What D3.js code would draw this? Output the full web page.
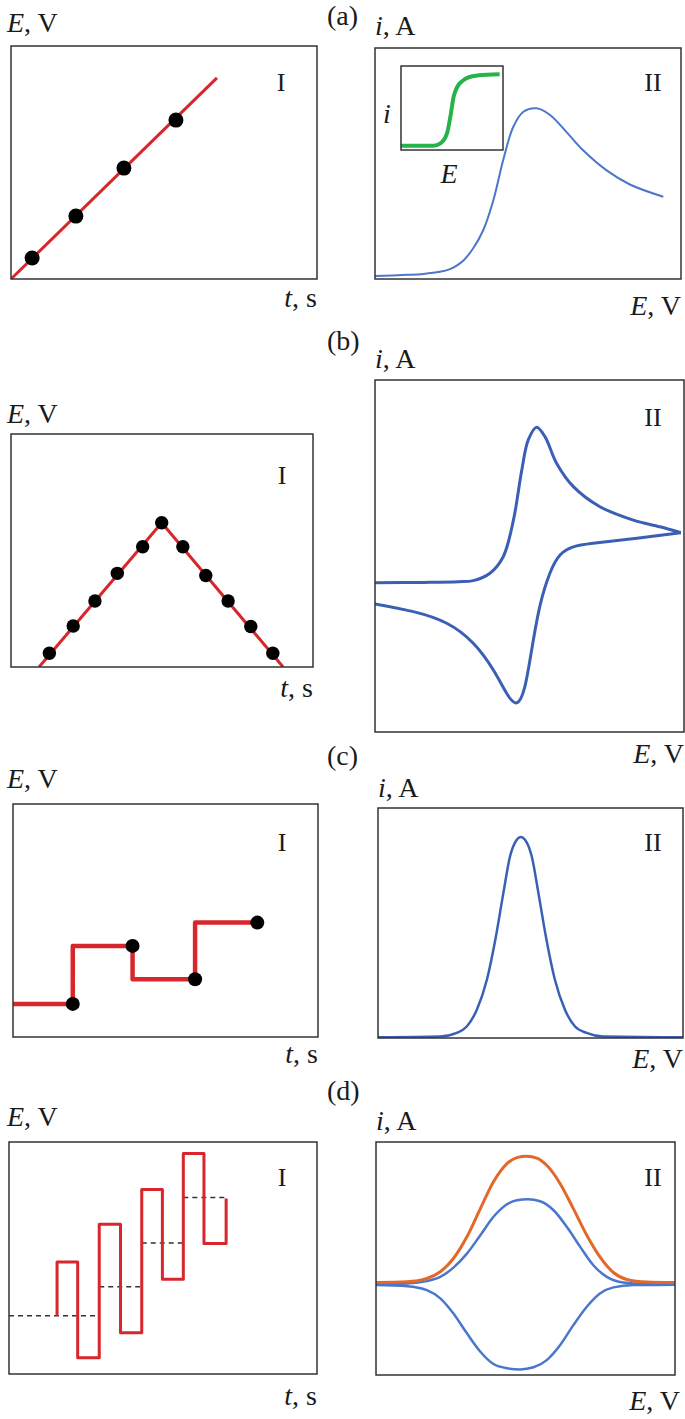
<!DOCTYPE html>
<html>
<head>
<meta charset="utf-8">
<script src="https://cdn.jsdelivr.net/npm/d3@7"></script>
<style>
  html, body { margin: 0; padding: 0; background: #fff; }
  svg { display: block; }
  text { font-family: "Liberation Serif", "Times New Roman", serif; fill: #1a1a1a; }
</style>
</head>
<body>
<svg id="chart" width="685" height="1419"></svg>
<script>
// ---------------- DATA (abstract units, 0–100 on both axes of each panel) ----------------
const panelLetters = ["(a)", "(b)", "(c)", "(d)"];

// (a) I: linear sweep
const sweepLineA = [[0, 0], [67.3, 86.3]];
const sweepDotsA = [[6.9, 9.0], [21.2, 27.0], [36.9, 47.6], [53.9, 68.2]];
// (a) II: linear sweep voltammogram
const lsvCurve = [[0, 1.3], [10.4, 1.8], [15.8, 2.2], [21.2, 3.1], [24.5, 4.3], [26.7, 5.8], [28.9, 8.0],
  [32.1, 13.3], [35.4, 21.2], [38.7, 34.2], [41.9, 51.5], [45.2, 65.9], [48.5, 72.4], [52.8, 73.9],
  [57.2, 71.0], [62.6, 63.6], [68.1, 55.6], [75.7, 47.0], [83.3, 40.9], [94.2, 35.6]];
// (a) inset: sigmoid
const insetSigmoid = [[0, 5.2], [32.0, 5.2], [38.6, 7.9], [45.1, 19.8], [48.4, 39.7], [51.6, 63.5],
  [54.9, 74.6], [61.4, 83.3], [71.2, 88.1], [84.3, 89.7], [96.7, 90.1]];

// (b) I: triangular sweep
const triLine = [[9.3, 0], [49.9, 61.9], [90.1, 0]];
const triDots = [[12.7, 5.9], [20.6, 17.6], [27.8, 28.3], [35.2, 40.2], [43.6, 51.6], [49.9, 61.9],
  [56.9, 51.6], [64.5, 39.3], [71.9, 28.3], [79.4, 17.4], [86.7, 5.9]];
// (b) II: cyclic voltammogram
const cvForward = [[0, 42.4], [16, 42.5], [27, 42.7], [31.8, 43.0], [37.2, 45.1], [41.5, 49.8], [44.8, 60.2], [47.5, 74.4],
  [49.6, 83.0], [52.3, 86.6], [55.0, 83.9], [58.8, 76.3], [64.2, 69.7], [72.8, 64.0],
  [83.6, 60.2], [92.2, 58.3], [99.0, 56.6]];
const cvReverse = [[99.0, 56.6], [84.1, 55.0], [70.6, 53.6], [64.2, 52.6], [59.9, 50.3], [56.6, 45.1],
  [53.4, 35.9], [50.7, 23.3], [48.5, 12.9], [45.9, 8.3], [42.6, 11.0], [38.3, 17.6],
  [31.8, 25.2], [23.2, 30.9], [12.4, 34.2], [0, 36.4]];

// (c) I: staircase
const stairPoints = [[0, 14.2], [19.6, 39.1], [39.2, 24.8], [59.7, 49.1], [80.1, 49.1]];
const stairDots = [[19.6, 14.2], [39.2, 39.1], [59.7, 24.8], [80.1, 49.1]];
// (c) II: differential pulse peak
const dpvPeak = [[0, 0.3], [20.4, 0.6], [25.8, 2.2], [29.1, 5.0], [32.4, 12.3], [35.7, 25.3],
  [38.6, 43.7], [41.1, 63.0], [43.3, 79.0], [45.5, 86.2], [46.8, 87.4], [48.2, 86.2],
  [50.4, 79.0], [52.6, 63.0], [55.1, 43.7], [58.0, 25.3], [61.3, 12.3], [64.6, 5.0],
  [68.4, 2.2], [73.8, 0.6], [100, 0.3]];

// (d) I: square wave on staircase
const squareWave = [[15.6, 25.1], [15.6, 48.3], [22.3, 7.0], [29.3, 64.6], [36.2, 17.8], [43.1, 79.5],
  [49.8, 40.8], [56.6, 95.0], [63.3, 56.3], [70.5, 75.6]];
const stairBase = [
  { from: 0, to: 29.3, level: 25.1 },
  { from: 29.3, to: 43.1, level: 37.6 },
  { from: 43.1, to: 56.6, level: 56.5 },
  { from: 56.6, to: 70.5, level: 76.1 }
];
// (d) II: square wave voltammetry
const swvNet = [[0, 39.7], [10.4, 40.0], [17.0, 41.4], [21.5, 44.3], [25.9, 50.0], [30.4, 59.3],
  [34.9, 71.4], [39.3, 82.9], [43.8, 90.7], [47.1, 93.3], [50.4, 93.9], [53.8, 93.1],
  [57.1, 90.0], [61.6, 82.1], [66.0, 71.4], [70.5, 60.0], [74.9, 50.7], [79.4, 44.0],
  [83.9, 41.0], [90.5, 39.9], [100, 39.7]];
const swvForward = [[0, 39.0], [10.4, 39.3], [17.0, 40.3], [21.5, 42.1], [25.9, 46.1], [30.4, 52.1],
  [34.9, 60.0], [39.3, 67.9], [43.8, 73.3], [47.1, 75.0], [50.8, 75.4], [54.9, 74.6],
  [59.4, 70.7], [63.8, 63.6], [68.3, 55.0], [72.7, 47.1], [77.2, 42.1], [82.7, 39.7],
  [90.5, 39.1], [100, 39.0]];
const swvReverse = [[0, 38.6], [10.4, 38.1], [17.0, 36.4], [21.5, 32.9], [25.9, 26.4], [30.4, 17.9],
  [34.9, 10.0], [39.3, 4.7], [43.8, 2.9], [48.2, 2.4], [52.7, 3.3], [57.1, 6.4],
  [61.6, 12.9], [66.0, 21.4], [70.5, 29.3], [74.9, 35.0], [79.4, 37.6], [86.1, 38.6],
  [100, 38.7]];

// ---------------- LAYOUT & STYLE ----------------
const RED = "#d8262d", BLUE = "#4a76cc", BLUE_D = "#3a5fb5", ORANGE = "#e2692a", GREEN = "#27b34b";
const FS = 28;
const svg = d3.select("#chart");
svg.append("rect").attr("width", 685).attr("height", 1419).attr("fill", "#fff");

function makePanel(box) {
  const g = svg.append("g");
  const x = d3.scaleLinear().domain([0, 100]).range([box.x0, box.x1]);
  const y = d3.scaleLinear().domain([0, 100]).range([box.y1, box.y0]);
  const clipId = "clip" + Math.round(box.x0) + "_" + Math.round(box.y0);
  g.append("clipPath").attr("id", clipId).append("rect")
    .attr("x", box.x0).attr("y", box.y0).attr("width", box.x1 - box.x0).attr("height", box.y1 - box.y0);
  const plot = g.append("g").attr("clip-path", `url(#${clipId})`);
  const frame = () => g.append("rect")
    .attr("x", box.x0).attr("y", box.y0).attr("width", box.x1 - box.x0).attr("height", box.y1 - box.y0)
    .attr("fill", "none").attr("stroke", "#333").attr("stroke-width", 1.5);
  return { g, plot, x, y, frame, box };
}

function axisLabel(g, xPos, yPos, italicPart, rest, anchor) {
  const t = g.append("text").attr("x", xPos).attr("y", yPos).attr("font-size", FS)
    .attr("text-anchor", anchor || "start");
  t.append("tspan").attr("font-style", "italic").text(italicPart);
  t.append("tspan").text(rest);
}
function roman(g, xPos, yPos, s) {
  g.append("text").attr("x", xPos).attr("y", yPos).attr("font-size", 26)
    .attr("text-anchor", "middle").text(s);
}
function line(p, data, color, w, curve) {
  p.plot.append("path").datum(data)
    .attr("d", d3.line().x(d => p.x(d[0])).y(d => p.y(d[1])).curve(curve || d3.curveLinear))
    .attr("fill", "none").attr("stroke", color).attr("stroke-width", w)
    .attr("stroke-linejoin", "round").attr("stroke-linecap", "butt");
}
function dots(p, data, r) {
  p.g.selectAll(null).data(data).enter().append("circle")
    .attr("cx", d => p.x(d[0])).attr("cy", d => p.y(d[1])).attr("r", r).attr("fill", "#000");
}

// ---------- (a) ----------
const aI = makePanel({ x0: 11, y0: 46, x1: 317, y1: 279 });
line(aI, sweepLineA, RED, 3);
aI.frame();
dots(aI, sweepDotsA, 7.5);
axisLabel(aI.g, 7, 32, "E", ", V");
axisLabel(aI.g, 317, 307, "t", ", s", "end");
roman(aI.g, 281, 91, "I");

const aII = makePanel({ x0: 375, y0: 48, x1: 681, y1: 279 });
line(aII, lsvCurve, BLUE, 2, d3.curveCatmullRom);
aII.frame();
axisLabel(aII.g, 375, 35, "i", ", A");
axisLabel(aII.g, 681, 315, "E", ", V", "end");
roman(aII.g, 653, 91, "II");
svg.append("text").attr("x", 327).attr("y", 25).attr("font-size", FS).text(panelLetters[0]);

// inset
const ins = makePanel({ x0: 401, y0: 66, x1: 503, y1: 150 });
line(ins, insetSigmoid, GREEN, 4, d3.curveMonotoneX);
ins.frame();
ins.g.append("text").attr("x", 387).attr("y", 123).attr("font-size", FS).attr("font-style", "italic")
  .attr("text-anchor", "middle").text("i");
ins.g.append("text").attr("x", 449).attr("y", 183).attr("font-size", FS).attr("font-style", "italic")
  .attr("text-anchor", "middle").text("E");

// ---------- (b) ----------
const bI = makePanel({ x0: 11, y0: 434, x1: 313, y1: 667 });
line(bI, triLine, RED, 3);
bI.frame();
dots(bI, triDots, 6.7);
axisLabel(bI.g, 7, 423, "E", ", V");
axisLabel(bI.g, 313, 697, "t", ", s", "end");
roman(bI.g, 282, 484, "I");

const bII = makePanel({ x0: 375, y0: 380, x1: 684, y1: 732 });
line(bII, cvForward, BLUE_D, 3, d3.curveCatmullRom);
line(bII, cvReverse, BLUE_D, 3, d3.curveNatural);
bII.frame();
axisLabel(bII.g, 375, 368, "i", ", A");
axisLabel(bII.g, 684, 763, "E", ", V", "end");
roman(bII.g, 653, 426, "II");
svg.append("text").attr("x", 327).attr("y", 350).attr("font-size", FS).text(panelLetters[1]);

// ---------- (c) ----------
const cI = makePanel({ x0: 13, y0: 804, x1: 318, y1: 1037 });
line(cI, stairPoints, RED, 4.5, d3.curveStepAfter);
cI.frame();
dots(cI, stairDots, 7);
axisLabel(cI.g, 7, 788, "E", ", V");
axisLabel(cI.g, 318, 1063, "t", ", s", "end");
roman(cI.g, 282, 851, "I");

const cII = makePanel({ x0: 378, y0: 808, x1: 683, y1: 1038 });
line(cII, dpvPeak, BLUE_D, 2.5, d3.curveMonotoneX);
cII.frame();
axisLabel(cII.g, 378, 797, "i", ", A");
axisLabel(cII.g, 683, 1068, "E", ", V", "end");
roman(cII.g, 653, 851, "II");
svg.append("text").attr("x", 327).attr("y", 765).attr("font-size", FS).text(panelLetters[2]);

// ---------- (d) ----------
const dI = makePanel({ x0: 9, y0: 1142, x1: 317, y1: 1374 });
dI.plot.selectAll(null).data(stairBase).enter().append("line")
  .attr("x1", d => dI.x(d.from)).attr("x2", d => dI.x(d.to))
  .attr("y1", d => dI.y(d.level)).attr("y2", d => dI.y(d.level))
  .attr("stroke", "#333").attr("stroke-width", 1.5).attr("stroke-dasharray", "5,4");
line(dI, squareWave, RED, 3, d3.curveStepAfter);
dI.frame();
axisLabel(dI.g, 7, 1126, "E", ", V");
axisLabel(dI.g, 317, 1405, "t", ", s", "end");
roman(dI.g, 282, 1186, "I");

const dII = makePanel({ x0: 376, y0: 1142, x1: 675, y1: 1375 });
line(dII, swvForward, BLUE, 2.5, d3.curveMonotoneX);
line(dII, swvReverse, BLUE, 2.5, d3.curveMonotoneX);
line(dII, swvNet, ORANGE, 3, d3.curveMonotoneX);
dII.frame();
axisLabel(dII.g, 376, 1130, "i", ", A");
axisLabel(dII.g, 680, 1410, "E", ", V", "end");
roman(dII.g, 653, 1186, "II");
svg.append("text").attr("x", 327).attr("y", 1100).attr("font-size", FS).text(panelLetters[3]);
</script>
</body>
</html>
